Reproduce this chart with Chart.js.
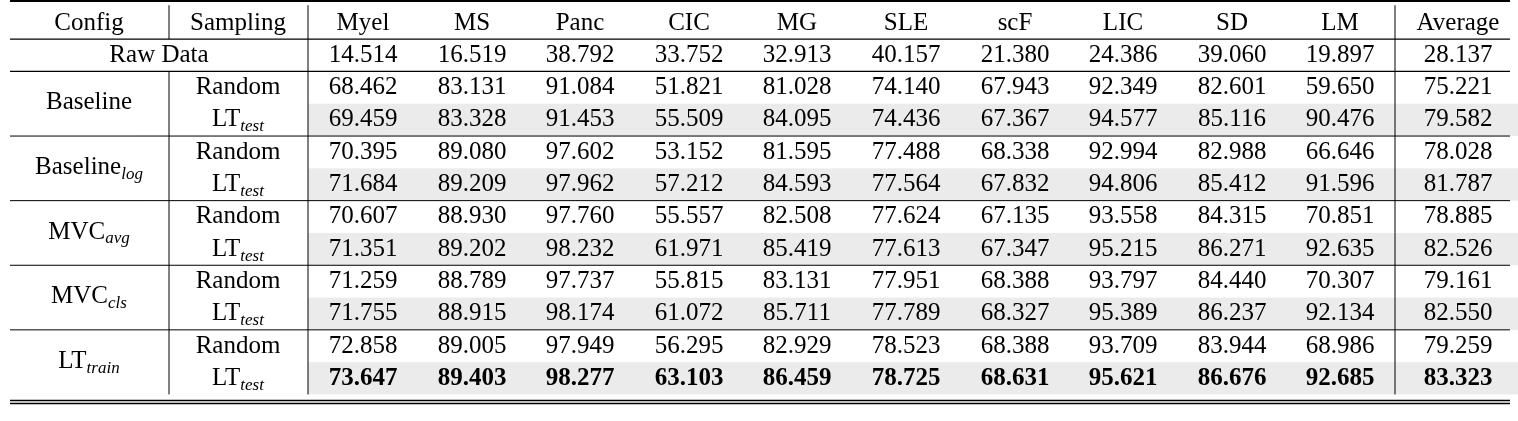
<!DOCTYPE html>
<html>
<head>
<meta charset="utf-8">
<script src="https://cdn.jsdelivr.net/npm/chart.js@4"></script>
<style>
  body { margin: 0; background: #fff; }
  canvas { display: block; }
</style>
</head>
<body>
<canvas id="tabelle" width="1518" height="421"></canvas>
<script>
// Daten der Tabelle
const datasets = ["Myel", "MS", "Panc", "CIC", "MG", "SLE", "scF", "LIC", "SD", "LM", "Average"];
const configs = [
  { name: "Baseline", sub: "" },
  { name: "Baseline", sub: "log" },
  { name: "MVC", sub: "avg" },
  { name: "MVC", sub: "cls" },
  { name: "LT", sub: "train" }
];
const rawData = [14.514, 16.519, 38.792, 33.752, 32.913, 40.157, 21.380, 24.386, 39.060, 19.897, 28.137];
const baselineRandom = [68.462, 83.131, 91.084, 51.821, 81.028, 74.140, 67.943, 92.349, 82.601, 59.650, 75.221];
const baselineLT = [69.459, 83.328, 91.453, 55.509, 84.095, 74.436, 67.367, 94.577, 85.116, 90.476, 79.582];
const logRandom = [70.395, 89.080, 97.602, 53.152, 81.595, 77.488, 68.338, 92.994, 82.988, 66.646, 78.028];
const logLT = [71.684, 89.209, 97.962, 57.212, 84.593, 77.564, 67.832, 94.806, 85.412, 91.596, 81.787];
const avgRandom = [70.607, 88.930, 97.760, 55.557, 82.508, 77.624, 67.135, 93.558, 84.315, 70.851, 78.885];
const avgLT = [71.351, 89.202, 98.232, 61.971, 85.419, 77.613, 67.347, 95.215, 86.271, 92.635, 82.526];
const clsRandom = [71.259, 88.789, 97.737, 55.815, 83.131, 77.951, 68.388, 93.797, 84.440, 70.307, 79.161];
const clsLT = [71.755, 88.915, 98.174, 61.072, 85.711, 77.789, 68.327, 95.389, 86.237, 92.134, 82.550];
const trainRandom = [72.858, 89.005, 97.949, 56.295, 82.929, 78.523, 68.388, 93.709, 83.944, 68.986, 79.259];
const trainLT = [73.647, 89.403, 98.277, 63.103, 86.459, 78.725, 68.631, 95.621, 86.676, 92.685, 83.323];

const groupRows = [
  [baselineRandom, baselineLT],
  [logRandom, logLT],
  [avgRandom, avgLT],
  [clsRandom, clsLT],
  [trainRandom, trainLT]
];

// Layout (Pixel-Einheiten der x-Achse, Zeilen-Einheiten der y-Achse)
const colX = [363, 472, 580, 689, 797, 906, 1015, 1123, 1232, 1340, 1458];
const configX = 89, samplingX = 238;
const lineLeft = 10, lineRight = 1510;
const sepConfig = 169, sepSampling = 308, sepAverage = 1395;
const SERIF = "'Liberation Serif', 'DejaVu Serif', serif";
const FS = 25, SUBFS = 17;

function drawSub(ctx, x, y, main, sub, bold) {
  const mainFont = (bold ? "bold " : "") + FS + "px " + SERIF;
  const subFont = "italic " + SUBFS + "px " + SERIF;
  ctx.font = mainFont;
  const w1 = ctx.measureText(main).width;
  ctx.font = subFont;
  const w2 = sub ? ctx.measureText(sub).width : 0;
  let left = x - (w1 + w2) / 2;
  ctx.textAlign = "left";
  ctx.font = mainFont;
  ctx.fillText(main, left, y);
  if (sub) {
    ctx.font = subFont;
    ctx.fillText(sub, left + w1, y + 7);
  }
}

const tablePlugin = {
  id: "tablePlugin",
  afterDatasetsDraw(chart) {
    const ctx = chart.ctx;
    const xs = chart.scales.x, ys = chart.scales.y;
    const px = v => xs.getPixelForValue(v);
    const py = v => ys.getPixelForValue(v);
    ctx.save();

    // graue Zeilen (LT_test)
    ctx.fillStyle = "#ebebeb";
    for (let g = 0; g < groupRows.length; g++) {
      const r = 3 + g * 2;
      ctx.fillRect(px(sepSampling), py(r - 0.5), px(1518) - px(sepSampling), py(r + 0.5) - py(r - 0.5));
    }

    // horizontale Linien
    ctx.strokeStyle = "#000";
    const hline = (r, w) => {
      ctx.lineWidth = w;
      ctx.beginPath();
      ctx.moveTo(px(lineLeft), py(r));
      ctx.lineTo(px(lineRight), py(r));
      ctx.stroke();
    };
    ctx.lineWidth = 2;
    ctx.beginPath();
    ctx.moveTo(px(lineLeft), 1);
    ctx.lineTo(px(lineRight), 1);
    ctx.stroke();
    hline(0.5, 1.3);
    hline(1.5, 1.3);
    for (let g = 1; g < groupRows.length; g++) hline(1.5 + g * 2, 1);
    ctx.lineWidth = 1.5;
    ctx.beginPath();
    ctx.moveTo(px(lineLeft), py(11.5) + 6); ctx.lineTo(px(lineRight), py(11.5) + 6);
    ctx.moveTo(px(lineLeft), py(11.5) + 9); ctx.lineTo(px(lineRight), py(11.5) + 9);
    ctx.stroke();

    // vertikale Linien
    const vline = (x, r0, r1) => {
      ctx.lineWidth = 1;
      ctx.beginPath();
      ctx.moveTo(px(x), py(r0));
      ctx.lineTo(px(x), py(r1));
      ctx.stroke();
    };
    vline(sepConfig, -0.55, 0.5);
    vline(sepConfig, 1.5, 11.5);
    vline(sepSampling, -0.55, 11.5);
    vline(sepAverage, -0.55, 11.5);

    // Texte
    ctx.fillStyle = "#000";
    ctx.textBaseline = "middle";
    ctx.textAlign = "center";
    ctx.font = FS + "px " + SERIF;
    ctx.fillText("Config", px(configX), py(0));
    ctx.fillText("Sampling", px(samplingX), py(0));
    datasets.forEach((d, i) => ctx.fillText(d, px(colX[i]), py(0)));
    ctx.fillText("Raw Data", px((lineLeft + sepSampling) / 2), py(1));
    rawData.forEach((v, i) => ctx.fillText(v.toFixed(3), px(colX[i]), py(1)));

    groupRows.forEach((pair, g) => {
      const r = 2 + g * 2;
      drawSub(ctx, px(configX), py(r + 0.5) - 1, configs[g].name, configs[g].sub, false);
      ctx.textAlign = "center";
      ctx.font = FS + "px " + SERIF;
      ctx.fillText("Random", px(samplingX), py(r));
      drawSub(ctx, px(samplingX), py(r + 1), "LT", "test", false);
      const last = g === groupRows.length - 1;
      pair.forEach((vals, k) => {
        ctx.textAlign = "center";
        ctx.font = (last && k === 1 ? "bold " : "") + FS + "px " + SERIF;
        vals.forEach((v, i) => ctx.fillText(v.toFixed(3), px(colX[i]), py(r + k)));
      });
    });
    ctx.restore();
  }
};

// Zellpositionen als unsichtbare Punkte
const cellPoints = [];
[rawData].concat(...groupRows).forEach((vals, r) => {
  vals.forEach((v, i) => cellPoints.push({ x: colX[i], y: r + 1 }));
});

new Chart(document.getElementById("tabelle").getContext("2d"), {
  type: "scatter",
  data: { datasets: [{ data: cellPoints, pointRadius: 0 }] },
  options: {
    responsive: false,
    animation: false,
    devicePixelRatio: 1,
    layout: { padding: 0 },
    plugins: { legend: { display: false }, tooltip: { enabled: false } },
    scales: {
      x: { type: "linear", min: 0, max: 1518, display: false },
      y: { type: "linear", min: -23 / 32.3, max: (421 - 23) / 32.3, reverse: true, display: false }
    }
  },
  plugins: [tablePlugin]
});
</script>
</body>
</html>
